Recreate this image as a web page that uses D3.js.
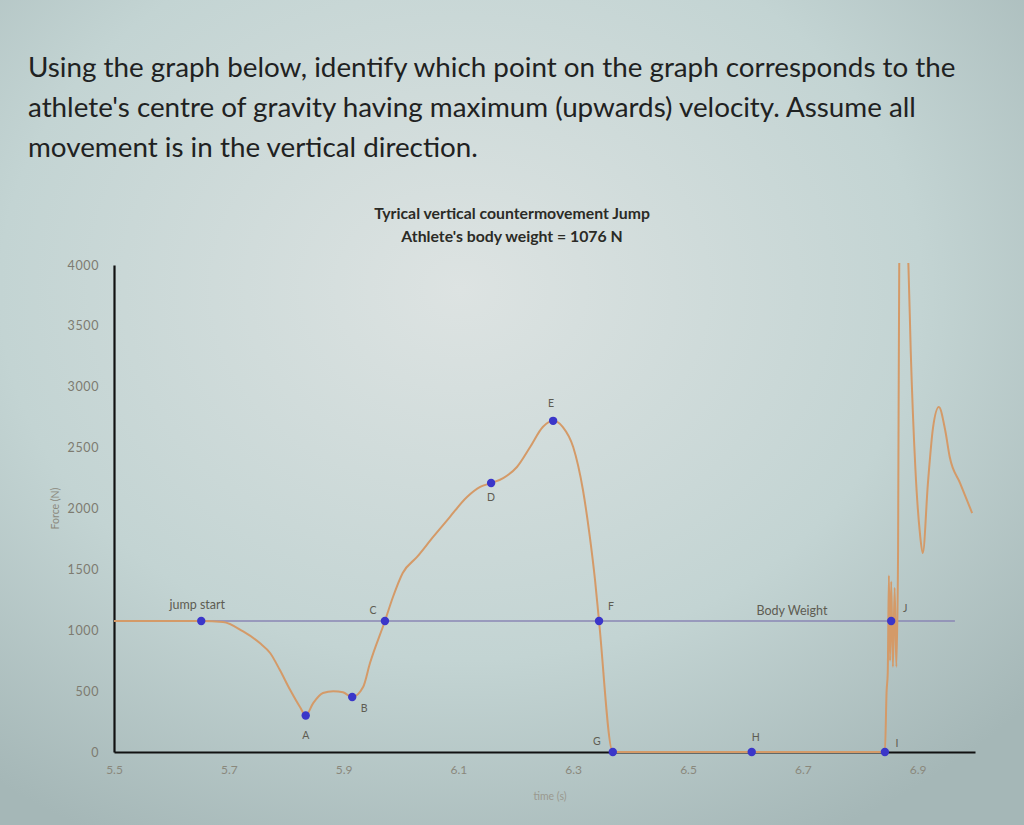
<!DOCTYPE html>
<html>
<head>
<meta charset="utf-8">
<script src="https://cdnjs.cloudflare.com/ajax/libs/d3/7.8.5/d3.min.js"></script>
<style>
  body { margin: 0; background: #c4d2d1; }
  svg { display: block; }
</style>
</head>
<body>
<div id="chart"></div>
<script>
// question text above the chart
var questionLines = [
  "Using the graph below, identify which point on the graph corresponds to the",
  "athlete's centre of gravity having maximum (upwards) velocity. Assume all",
  "movement is in the vertical direction."
];
var chartTitle = ["Tyrical vertical countermovement Jump", "Athlete's body weight = 1076 N"];

// force curve (time in s, force in N)
var curveTime = [5.50, 5.60, 5.652, 5.69, 5.725, 5.754, 5.772, 5.789, 5.807, 5.824, 5.834, 5.847,
  5.864, 5.882, 5.899, 5.915, 5.934, 5.946, 5.972, 5.986, 6.003, 6.028, 6.056, 6.085, 6.115,
  6.138, 6.157, 6.178, 6.202, 6.225, 6.247, 6.265, 6.282, 6.300, 6.317, 6.329, 6.338, 6.345,
  6.369, 6.611, 6.843, 6.846, 6.848, 6.850, 6.852, 6.854, 6.857, 6.860, 6.863, 6.866, 6.868,
  6.872, 6.880, 6.884, 6.888, 6.896, 6.904, 6.909, 6.918, 6.927, 6.937, 6.948, 6.956, 6.974, 6.995];
var curveForce = [1076, 1076, 1076, 1068, 990, 895, 813, 673, 509, 370, 300, 402,
  485, 500, 490, 452, 534, 731, 1076, 1273, 1470, 1602, 1766, 1930, 2094,
  2177, 2209, 2250, 2341, 2505, 2669, 2720, 2669, 2505, 2152, 1766, 1413, 1076,
  0, 0, 0, 500, 650, 1450, 750, 1400, 700, 1350, 700, 1650, 4000,
  4300, 4300, 4000, 3300, 2341, 1799, 1634, 2209, 2669, 2834, 2645, 2423, 2209, 1963];

// marked points
var pointNames = ["jump start", "A", "B", "C", "D", "E", "F", "G", "H", "I", "J"];
var pointTime = [5.652, 5.834, 5.915, 5.972, 6.157, 6.265, 6.345, 6.369, 6.611, 6.843, 6.854];
var pointForce = [1076, 300, 452, 1076, 2209, 2720, 1076, 0, 0, 0, 1076];

var bodyWeight = 1076;
var xTicks = [5.5, 5.7, 5.9, 6.1, 6.3, 6.5, 6.7, 6.9];
var yTicks = [0, 500, 1000, 1500, 2000, 2500, 3000, 3500, 4000];

var width = 1024, height = 825;

var svg = d3.select("#chart").append("svg")
  .attr("width", width)
  .attr("height", height);

// photo-like background
var defs = svg.append("defs");
var grad = defs.append("radialGradient")
  .attr("id", "bg")
  .attr("cx", "45%").attr("cy", "35%").attr("r", "75%");
grad.append("stop").attr("offset", "0%").attr("stop-color", "#dde3e2");
grad.append("stop").attr("offset", "60%").attr("stop-color", "#c3d4d3");
grad.append("stop").attr("offset", "100%").attr("stop-color", "#a5b7b7");
svg.append("rect")
  .attr("width", width).attr("height", height)
  .attr("fill", "url(#bg)");

// question
svg.append("g").selectAll("text")
  .data(questionLines)
  .enter().append("text")
  .attr("x", 28)
  .attr("y", function (d, i) { return 77 + i * 40; })
  .attr("font-family", "Lato, sans-serif")
  .attr("font-size", 27.8)
  .attr("fill", "#1f2222")
  .text(function (d) { return d; });

// scales
var x = d3.scaleLinear().domain([5.5, 7.0]).range([114, 975]);
var y = d3.scaleLinear().domain([0, 4000]).range([752, 265]);

defs.append("clipPath").attr("id", "plot")
  .append("rect")
  .attr("x", 114).attr("y", y(4000) - 2)
  .attr("width", 900).attr("height", y(0) - y(4000) + 10);

// chart title
svg.append("g").selectAll("text")
  .data(chartTitle)
  .enter().append("text")
  .attr("x", function (d, i) { return i == 0 ? 512 : 512; })
  .attr("y", function (d, i) { return 219 + i * 23; })
  .attr("text-anchor", "middle")
  .attr("font-family", "Lato, sans-serif")
  .attr("font-weight", "bold")
  .attr("font-size", 15.8)
  .attr("fill", "#2b2b26")
  .text(function (d) { return d; });

// y axis
var yAxis = svg.append("g")
  .attr("transform", "translate(114,0)")
  .call(d3.axisLeft(y).tickValues(yTicks).tickSize(0).tickPadding(15).tickFormat(d3.format("d")));
yAxis.select(".domain").attr("stroke", "#111").attr("stroke-width", 2.2);
yAxis.selectAll("text")
  .attr("font-family", "Lato, sans-serif")
  .attr("font-size", 12.5)
  .attr("letter-spacing", 0.6)
  .attr("fill", "#7d7b70");

// x axis
var xAxis = svg.append("g")
  .attr("transform", "translate(0," + y(0) + ")")
  .call(d3.axisBottom(x).tickValues(xTicks).tickSize(0).tickSizeOuter(0).tickPadding(13).tickFormat(d3.format(".1f")));
xAxis.select(".domain").attr("stroke", "#111").attr("stroke-width", 2.2);
xAxis.selectAll("text")
  .attr("font-family", "Lato, sans-serif")
  .attr("font-size", 12)
  .attr("fill", "#8a887c");

// axis titles
svg.append("text")
  .attr("transform", "translate(59," + y(2000) + ") rotate(-90)")
  .attr("text-anchor", "middle")
  .attr("font-family", "Lato, sans-serif")
  .attr("font-size", 10.5)
  .attr("fill", "#8a887c")
  .text("Force (N)");
svg.append("text")
  .attr("x", 550).attr("y", 800)
  .attr("text-anchor", "middle")
  .attr("font-family", "Lato, sans-serif")
  .attr("font-size", 10.5)
  .attr("fill", "#9a998f")
  .text("time (s)");

// body weight line
svg.append("line")
  .attr("x1", x(5.5)).attr("x2", x(6.965))
  .attr("y1", y(bodyWeight)).attr("y2", y(bodyWeight))
  .attr("stroke", "#8a86b4")
  .attr("stroke-width", 1.6);
svg.append("text")
  .attr("x", 792).attr("y", y(bodyWeight) - 10)
  .attr("text-anchor", "middle")
  .attr("dy", "0.35em")
  .attr("font-family", "Lato, sans-serif")
  .attr("font-size", 12.5)
  .attr("fill", "#5e5c52")
  .text("Body Weight");

// force curve
var curveData = curveTime.map(function (t, i) { return {t: t, f: curveForce[i]}; });
var line = d3.line()
  .x(function (d) { return x(d.t); })
  .y(function (d) { return y(d.f); })
  .curve(d3.curveMonotoneX);
svg.append("path")
  .datum(curveData)
  .attr("clip-path", "url(#plot)")
  .attr("d", line)
  .attr("fill", "none")
  .attr("stroke", "#d49a68")
  .attr("stroke-width", 2);

// points and their labels
var labelOffset = {
  "jump start": [-4, -16], "A": [0, 20], "B": [12, 11], "C": [-12, -11], "D": [0, 14],
  "E": [-2, -18], "F": [12, -15], "G": [-16, -11], "H": [4, -15], "I": [12, -9], "J": [14, -13]
};
var points = pointNames.map(function (n, i) { return {name: n, t: pointTime[i], f: pointForce[i]}; });

svg.append("g").selectAll("circle")
  .data(points)
  .enter().append("circle")
  .attr("cx", function (d) { return x(d.t); })
  .attr("cy", function (d) { return y(d.f); })
  .attr("r", 4.2)
  .attr("fill", "#3b36c9");

svg.append("g").selectAll("text")
  .data(points)
  .enter().append("text")
  .attr("x", function (d) { return x(d.t) + labelOffset[d.name][0]; })
  .attr("y", function (d) { return y(d.f) + labelOffset[d.name][1]; })
  .attr("text-anchor", "middle")
  .attr("dy", "0.35em")
  .attr("font-family", "Lato, sans-serif")
  .attr("font-size", function (d) { return d.name.length > 1 ? 12.5 : 10.5; })
  .attr("fill", "#5e5c52")
  .text(function (d) { return d.name; });
</script>
</body>
</html>
